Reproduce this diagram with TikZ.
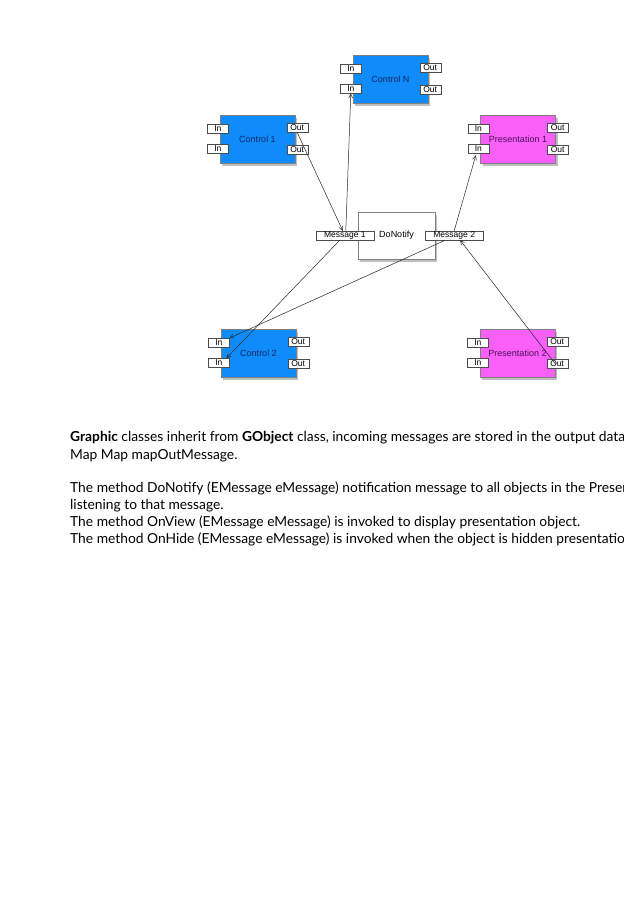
\documentclass[tikz,border=0pt]{standalone}
\usepackage{fontspec}
\setmainfont{Lato}
\newfontfamily\diagfont{Liberation Sans}
\usepackage{tikz}
\usetikzlibrary{arrows.meta, positioning, calc, shadows}

\definecolor{ctrlblue}{RGB}{15,140,250}
\definecolor{ctrltext}{RGB}{15,40,100}
\definecolor{presmag}{RGB}{250,95,250}
\definecolor{prestext}{RGB}{75,15,85}

\begin{document}
\begin{tikzpicture}[x=1pt, y=-1pt,
    block/.style={minimum width=75pt, minimum height=48pt, inner sep=0pt,
        draw=black!50, line width=0.4pt, font=\diagfont\fontsize{9}{10}\selectfont,
        drop shadow={shadow xshift=2pt, shadow yshift=-2.5pt, opacity=0.5}},
    ctrlbox/.style={block, fill=ctrlblue, text=ctrltext},
    presbox/.style={block, fill=presmag, text=prestext},
    notifybox/.style={block, fill=white, text=black, minimum width=77pt, minimum height=47pt},
    port/.style={draw=black!70, fill=white, line width=0.4pt, inner sep=0pt,
        minimum width=21pt, minimum height=9pt, font=\diagfont\fontsize{8.5}{9}\selectfont},
    msgport/.style={port, minimum width=58pt},
    link/.style={draw=black!85, line width=0.5pt, -{Straight Barb[length=4pt,width=4pt]}},
    note/.style={anchor=base west, inner sep=0pt, font=\fontsize{13.8}{17}\selectfont}
]
    \useasboundingbox[fill=white] (0,0) rectangle (638,903);

    % Control and presentation blocks with their ports
    \foreach \blk/\sty/\lbl/\x/\y in {ctrlN/ctrlbox/Control N/390.5/79,
                                     ctrl1/ctrlbox/Control 1/257.5/139,
                                     pres1/presbox/Presentation 1/518/139,
                                     ctrl2/ctrlbox/Control 2/258.5/353,
                                     pres2/presbox/Presentation 2/517.5/353} {
        \node[\sty] (\blk) at (\x,\y) {\lbl};
        \node[port] (\blk-in1) at ([xshift=-2pt, yshift=-14pt]\blk.north west) {In};
        \node[port] (\blk-in2) at ([xshift=-2pt, yshift=-34pt]\blk.north west) {In};
        \node[port] (\blk-out1) at ([xshift=2pt, yshift=-13pt]\blk.north east) {Out};
        \node[port] (\blk-out2) at ([xshift=2pt, yshift=-35pt]\blk.north east) {Out};
    }

    % Notifier in the middle
    \node[notifybox] (notify) at (396.5,235.5) {DoNotify};
    \node[msgport] (msg1) at ([xshift=-13pt]notify.west) {Message 1};
    \node[msgport] (msg2) at ([xshift=19pt]notify.east) {Message 2};

    % Message flow
    \draw[link] (ctrl1-out1.south) -- ([xshift=-2pt]msg1.north);
    \draw[link] ([xshift=1pt]msg1.north) -- (ctrlN-in2.south);
    \draw[link] ([xshift=-5pt]msg1.south) -- ([xshift=-3pt]ctrl2-in2.north east);
    \draw[link] ([xshift=-9pt]msg2.south) -- (ctrl2-in1.north east);
    \draw[link, shorten >=2pt] (msg2.north) -- ([xshift=-2pt]pres1-in2.south);
    \draw[link] ([xshift=-2pt]pres2-out2.center) -- ([xshift=6pt]msg2.south);

    % Description, cut at the right edge
    \begin{scope}
        \clip (0,0) rectangle (623,903);
        \foreach \y/\txt [count=\k] in {
            441/{\textbf{Graphic} classes inherit from \textbf{GObject} class, incoming messages are stored in the output data},
            459/{Map Map mapOutMessage.},
            492/{The method DoNotify (EMessage eMessage) notification message to all objects in the Presentation},
            509/{listening to that message.},
            526/{The method OnView (EMessage eMessage) is invoked to display presentation object.},
            543/{The method OnHide (EMessage eMessage) is invoked when the object is hidden presentation}} {
            \node[note] (note\k) at (70,\y) {\txt};
        }
    \end{scope}
\end{tikzpicture}
\end{document}
